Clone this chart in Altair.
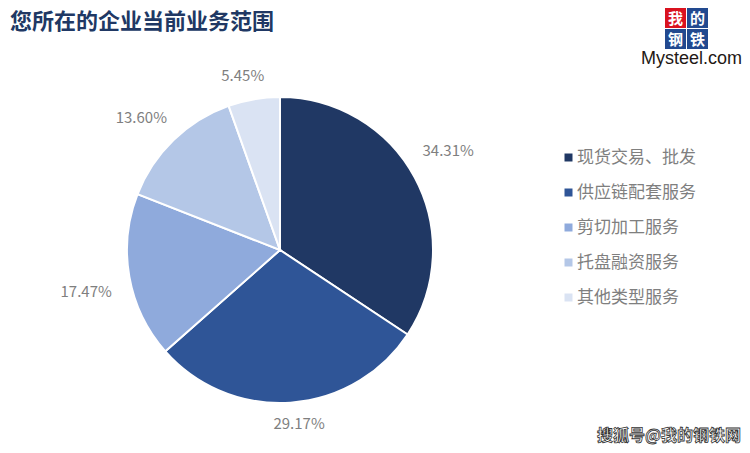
import altair as alt
import pandas as pd

title_text = "您所在的企业当前业务范围"
categories = ["现货交易、批发", "供应链配套服务", "剪切加工服务", "托盘融资服务", "其他类型服务"]
values = [34.31, 29.17, 17.47, 13.60, 5.45]
labels = ["34.31%", "29.17%", "17.47%", "13.60%", "5.45%"]
colors = ["#203864", "#2F5597", "#8FAADC", "#B4C7E7", "#DAE3F3"]
logo_chars = ["我", "的", "钢", "铁"]
logo_text = "Mysteel.com"
watermark = "搜狐号@我的钢铁网"

FONT = "Noto Sans CJK SC"
CX, CY, R = 272, 242, 153

df = pd.DataFrame({"cat": categories, "value": values, "label": labels, "idx": list(range(len(values)))})
base = alt.Chart(df)

pie = base.mark_arc(outerRadius=R, stroke="white", strokeWidth=2).encode(
    theta=alt.Theta("value:Q", stack=True),
    color=alt.Color(
        "cat:N",
        scale=alt.Scale(domain=categories, range=colors),
        legend=alt.Legend(
            title=None, orient="none", legendX=552, legendY=141,
            symbolType="square", symbolSize=64, symbolStrokeWidth=0,
            labelFontSize=17, labelColor="#7f7f7f", labelFont=FONT,
            rowPadding=17, labelOffset=0, padding=0, labelLimit=300,
        ),
    ),
    order=alt.Order("idx:Q"),
    x=alt.value(CX), y=alt.value(CY),
)

lab = base.transform_joinaggregate(total="sum(value)").transform_window(
    cum="sum(value)", sort=[alt.SortField("idx")], frame=[None, 0]
).transform_calculate(
    ang="(datum.cum - datum.value/2)/datum.total*2*PI - 0.04",
    r="172 + 27*abs(sin(datum.ang))",
).mark_text(fontSize=15, color="#7f7f7f", font=FONT).encode(
    theta=alt.Theta("ang:Q", scale=None),
    radius=alt.Radius("r:Q", scale=None),
    text="label:N",
    x=alt.value(CX), y=alt.value(CY),
)

one = pd.DataFrame({"a": [0]})

title = alt.Chart(pd.DataFrame({"t": [title_text]})).mark_text(
    font=FONT, fontSize=22, fontWeight="bold", color="#203864", align="left", baseline="middle"
).encode(text="t:N", x=alt.value(2), y=alt.value(14))

logo_layers = []
box_pos = [(657, 0, "#D9121F"), (679, 0, "#22498F"), (657, 21, "#22498F"), (679, 21, "#22498F")]
for ch, (bx, by, col) in zip(logo_chars, box_pos):
    logo_layers.append(
        alt.Chart(one).mark_rect(color=col).encode(
            x=alt.value(bx), x2=alt.value(bx + 21), y=alt.value(by), y2=alt.value(by + 20)
        )
    )
    logo_layers.append(
        alt.Chart(pd.DataFrame({"t": [ch]})).mark_text(
            font=FONT, fontSize=15, fontWeight="bold", color="white", baseline="middle"
        ).encode(text="t:N", x=alt.value(bx + 10.5), y=alt.value(by + 10.5))
    )
logo_layers.append(
    alt.Chart(pd.DataFrame({"t": [logo_text]})).mark_text(
        font="Liberation Sans", fontSize=18, color="#231815", align="right", baseline="middle"
    ).encode(text="t:N", x=alt.value(734), y=alt.value(51))
)

wm = alt.Chart(pd.DataFrame({"t": [watermark]})).mark_text(
    font=FONT, fontSize=16, fontWeight="bold", color="white", stroke="#333333", strokeWidth=0.8,
    align="right", baseline="middle"
).encode(text="t:N", x=alt.value(733), y=alt.value(428))

chart = alt.layer(pie, lab, title, wm, *logo_layers).properties(
    width=734, height=437, padding=0, autosize="none"
).configure_view(stroke=None)

chart.save("out.html", embed_options={"renderer": "svg", "actions": False})
